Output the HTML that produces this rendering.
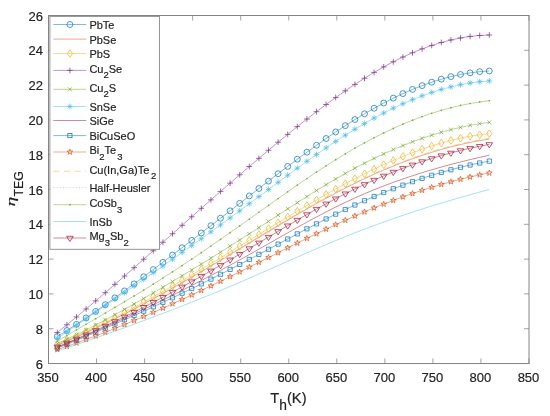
<!DOCTYPE html>
<html lang="en"><head><meta charset="utf-8"><title>TEG efficiency</title>
<style>text{stroke:#222;stroke-width:0.18px}html,body{margin:0;padding:0;background:#fff}body{width:550px;height:416px;overflow:hidden}svg{display:block}</style>
</head><body>
<svg width="550" height="416" viewBox="0 0 550 416" font-family="'Liberation Sans', Arial, sans-serif">
<rect width="550" height="416" fill="#fff"/>
<g id="curves" fill="none" stroke-linejoin="round">
<polyline points="57.30,336.53 66.90,330.53 76.50,324.33 86.10,317.95 95.70,311.39 105.30,304.69 114.90,297.85 124.50,290.90 134.10,283.85 143.70,276.73 153.30,269.54 162.90,262.31 172.50,255.03 182.10,247.73 191.70,240.39 201.30,233.02 210.90,225.64 220.50,218.23 230.10,210.81 239.70,203.38 249.30,195.94 258.90,188.50 268.50,181.09 278.10,173.72 287.70,166.43 297.30,159.24 306.90,152.17 316.50,145.25 326.10,138.51 335.70,131.96 345.30,125.64 354.90,119.57 364.50,113.77 374.10,108.25 383.70,103.04 393.30,98.15 402.90,93.60 412.50,89.42 422.10,85.60 431.70,82.19 441.30,79.18 450.90,76.61 460.50,74.49 470.10,72.84 479.70,71.67 489.30,71.01" stroke="#0072BD" stroke-width="0.5"/>
<circle cx="57.30" cy="336.53" r="2.95" stroke="#0072BD" stroke-width="0.72" fill="none"/>
<circle cx="66.90" cy="330.53" r="2.95" stroke="#0072BD" stroke-width="0.72" fill="none"/>
<circle cx="76.50" cy="324.33" r="2.95" stroke="#0072BD" stroke-width="0.72" fill="none"/>
<circle cx="86.10" cy="317.95" r="2.95" stroke="#0072BD" stroke-width="0.72" fill="none"/>
<circle cx="95.70" cy="311.39" r="2.95" stroke="#0072BD" stroke-width="0.72" fill="none"/>
<circle cx="105.30" cy="304.69" r="2.95" stroke="#0072BD" stroke-width="0.72" fill="none"/>
<circle cx="114.90" cy="297.85" r="2.95" stroke="#0072BD" stroke-width="0.72" fill="none"/>
<circle cx="124.50" cy="290.90" r="2.95" stroke="#0072BD" stroke-width="0.72" fill="none"/>
<circle cx="134.10" cy="283.85" r="2.95" stroke="#0072BD" stroke-width="0.72" fill="none"/>
<circle cx="143.70" cy="276.73" r="2.95" stroke="#0072BD" stroke-width="0.72" fill="none"/>
<circle cx="153.30" cy="269.54" r="2.95" stroke="#0072BD" stroke-width="0.72" fill="none"/>
<circle cx="162.90" cy="262.31" r="2.95" stroke="#0072BD" stroke-width="0.72" fill="none"/>
<circle cx="172.50" cy="255.03" r="2.95" stroke="#0072BD" stroke-width="0.72" fill="none"/>
<circle cx="182.10" cy="247.73" r="2.95" stroke="#0072BD" stroke-width="0.72" fill="none"/>
<circle cx="191.70" cy="240.39" r="2.95" stroke="#0072BD" stroke-width="0.72" fill="none"/>
<circle cx="201.30" cy="233.02" r="2.95" stroke="#0072BD" stroke-width="0.72" fill="none"/>
<circle cx="210.90" cy="225.64" r="2.95" stroke="#0072BD" stroke-width="0.72" fill="none"/>
<circle cx="220.50" cy="218.23" r="2.95" stroke="#0072BD" stroke-width="0.72" fill="none"/>
<circle cx="230.10" cy="210.81" r="2.95" stroke="#0072BD" stroke-width="0.72" fill="none"/>
<circle cx="239.70" cy="203.38" r="2.95" stroke="#0072BD" stroke-width="0.72" fill="none"/>
<circle cx="249.30" cy="195.94" r="2.95" stroke="#0072BD" stroke-width="0.72" fill="none"/>
<circle cx="258.90" cy="188.50" r="2.95" stroke="#0072BD" stroke-width="0.72" fill="none"/>
<circle cx="268.50" cy="181.09" r="2.95" stroke="#0072BD" stroke-width="0.72" fill="none"/>
<circle cx="278.10" cy="173.72" r="2.95" stroke="#0072BD" stroke-width="0.72" fill="none"/>
<circle cx="287.70" cy="166.43" r="2.95" stroke="#0072BD" stroke-width="0.72" fill="none"/>
<circle cx="297.30" cy="159.24" r="2.95" stroke="#0072BD" stroke-width="0.72" fill="none"/>
<circle cx="306.90" cy="152.17" r="2.95" stroke="#0072BD" stroke-width="0.72" fill="none"/>
<circle cx="316.50" cy="145.25" r="2.95" stroke="#0072BD" stroke-width="0.72" fill="none"/>
<circle cx="326.10" cy="138.51" r="2.95" stroke="#0072BD" stroke-width="0.72" fill="none"/>
<circle cx="335.70" cy="131.96" r="2.95" stroke="#0072BD" stroke-width="0.72" fill="none"/>
<circle cx="345.30" cy="125.64" r="2.95" stroke="#0072BD" stroke-width="0.72" fill="none"/>
<circle cx="354.90" cy="119.57" r="2.95" stroke="#0072BD" stroke-width="0.72" fill="none"/>
<circle cx="364.50" cy="113.77" r="2.95" stroke="#0072BD" stroke-width="0.72" fill="none"/>
<circle cx="374.10" cy="108.25" r="2.95" stroke="#0072BD" stroke-width="0.72" fill="none"/>
<circle cx="383.70" cy="103.04" r="2.95" stroke="#0072BD" stroke-width="0.72" fill="none"/>
<circle cx="393.30" cy="98.15" r="2.95" stroke="#0072BD" stroke-width="0.72" fill="none"/>
<circle cx="402.90" cy="93.60" r="2.95" stroke="#0072BD" stroke-width="0.72" fill="none"/>
<circle cx="412.50" cy="89.42" r="2.95" stroke="#0072BD" stroke-width="0.72" fill="none"/>
<circle cx="422.10" cy="85.60" r="2.95" stroke="#0072BD" stroke-width="0.72" fill="none"/>
<circle cx="431.70" cy="82.19" r="2.95" stroke="#0072BD" stroke-width="0.72" fill="none"/>
<circle cx="441.30" cy="79.18" r="2.95" stroke="#0072BD" stroke-width="0.72" fill="none"/>
<circle cx="450.90" cy="76.61" r="2.95" stroke="#0072BD" stroke-width="0.72" fill="none"/>
<circle cx="460.50" cy="74.49" r="2.95" stroke="#0072BD" stroke-width="0.72" fill="none"/>
<circle cx="470.10" cy="72.84" r="2.95" stroke="#0072BD" stroke-width="0.72" fill="none"/>
<circle cx="479.70" cy="71.67" r="2.95" stroke="#0072BD" stroke-width="0.72" fill="none"/>
<circle cx="489.30" cy="71.01" r="2.95" stroke="#0072BD" stroke-width="0.72" fill="none"/>
<polyline points="57.30,345.23 66.90,341.22 76.50,337.06 86.10,332.73 95.70,328.26 105.30,323.65 114.90,318.90 124.50,314.04 134.10,309.05 143.70,303.96 153.30,298.77 162.90,293.49 172.50,288.12 182.10,282.68 191.70,277.16 201.30,271.59 210.90,265.97 220.50,260.29 230.10,254.59 239.70,248.85 249.30,243.09 258.90,237.32 268.50,231.56 278.10,225.82 287.70,220.14 297.30,214.51 306.90,208.98 316.50,203.55 326.10,198.25 335.70,193.10 345.30,188.11 354.90,183.31 364.50,178.70 374.10,174.28 383.70,170.08 393.30,166.08 402.90,162.31 412.50,158.75 422.10,155.42 431.70,152.33 441.30,149.48 450.90,146.88 460.50,144.52 470.10,142.43 479.70,140.60 489.30,139.04" stroke="#D95319" stroke-width="0.5"/>
<polyline points="57.30,344.36 66.90,340.22 76.50,335.93 86.10,331.49 95.70,326.91 105.30,322.19 114.90,317.35 124.50,312.39 134.10,307.31 143.70,302.13 153.30,296.86 162.90,291.49 172.50,286.04 182.10,280.51 191.70,274.92 201.30,269.26 210.90,263.55 220.50,257.79 230.10,251.99 239.70,246.16 249.30,240.31 258.90,234.44 268.50,228.56 278.10,222.71 287.70,216.89 297.30,211.13 306.90,205.44 316.50,199.84 326.10,194.35 335.70,188.98 345.30,183.76 354.90,178.70 364.50,173.82 374.10,169.13 383.70,164.65 393.30,160.40 402.90,156.38 412.50,152.62 422.10,149.14 431.70,145.94 441.30,143.04 450.90,140.46 460.50,138.22 470.10,136.32 479.70,134.80 489.30,133.65" stroke="#EDB120" stroke-width="0.5"/>
<path d="M57.30 340.56L59.90 344.36L57.30 348.16L54.70 344.36Z" stroke="#EDB120" stroke-width="0.72" fill="none"/>
<path d="M66.90 336.42L69.50 340.22L66.90 344.02L64.30 340.22Z" stroke="#EDB120" stroke-width="0.72" fill="none"/>
<path d="M76.50 332.13L79.10 335.93L76.50 339.73L73.90 335.93Z" stroke="#EDB120" stroke-width="0.72" fill="none"/>
<path d="M86.10 327.69L88.70 331.49L86.10 335.29L83.50 331.49Z" stroke="#EDB120" stroke-width="0.72" fill="none"/>
<path d="M95.70 323.11L98.30 326.91L95.70 330.71L93.10 326.91Z" stroke="#EDB120" stroke-width="0.72" fill="none"/>
<path d="M105.30 318.39L107.90 322.19L105.30 325.99L102.70 322.19Z" stroke="#EDB120" stroke-width="0.72" fill="none"/>
<path d="M114.90 313.55L117.50 317.35L114.90 321.15L112.30 317.35Z" stroke="#EDB120" stroke-width="0.72" fill="none"/>
<path d="M124.50 308.59L127.10 312.39L124.50 316.19L121.90 312.39Z" stroke="#EDB120" stroke-width="0.72" fill="none"/>
<path d="M134.10 303.51L136.70 307.31L134.10 311.11L131.50 307.31Z" stroke="#EDB120" stroke-width="0.72" fill="none"/>
<path d="M143.70 298.33L146.30 302.13L143.70 305.93L141.10 302.13Z" stroke="#EDB120" stroke-width="0.72" fill="none"/>
<path d="M153.30 293.06L155.90 296.86L153.30 300.66L150.70 296.86Z" stroke="#EDB120" stroke-width="0.72" fill="none"/>
<path d="M162.90 287.69L165.50 291.49L162.90 295.29L160.30 291.49Z" stroke="#EDB120" stroke-width="0.72" fill="none"/>
<path d="M172.50 282.24L175.10 286.04L172.50 289.84L169.90 286.04Z" stroke="#EDB120" stroke-width="0.72" fill="none"/>
<path d="M182.10 276.71L184.70 280.51L182.10 284.31L179.50 280.51Z" stroke="#EDB120" stroke-width="0.72" fill="none"/>
<path d="M191.70 271.12L194.30 274.92L191.70 278.72L189.10 274.92Z" stroke="#EDB120" stroke-width="0.72" fill="none"/>
<path d="M201.30 265.46L203.90 269.26L201.30 273.06L198.70 269.26Z" stroke="#EDB120" stroke-width="0.72" fill="none"/>
<path d="M210.90 259.75L213.50 263.55L210.90 267.35L208.30 263.55Z" stroke="#EDB120" stroke-width="0.72" fill="none"/>
<path d="M220.50 253.99L223.10 257.79L220.50 261.59L217.90 257.79Z" stroke="#EDB120" stroke-width="0.72" fill="none"/>
<path d="M230.10 248.19L232.70 251.99L230.10 255.79L227.50 251.99Z" stroke="#EDB120" stroke-width="0.72" fill="none"/>
<path d="M239.70 242.36L242.30 246.16L239.70 249.96L237.10 246.16Z" stroke="#EDB120" stroke-width="0.72" fill="none"/>
<path d="M249.30 236.51L251.90 240.31L249.30 244.11L246.70 240.31Z" stroke="#EDB120" stroke-width="0.72" fill="none"/>
<path d="M258.90 230.64L261.50 234.44L258.90 238.24L256.30 234.44Z" stroke="#EDB120" stroke-width="0.72" fill="none"/>
<path d="M268.50 224.76L271.10 228.56L268.50 232.36L265.90 228.56Z" stroke="#EDB120" stroke-width="0.72" fill="none"/>
<path d="M278.10 218.91L280.70 222.71L278.10 226.51L275.50 222.71Z" stroke="#EDB120" stroke-width="0.72" fill="none"/>
<path d="M287.70 213.09L290.30 216.89L287.70 220.69L285.10 216.89Z" stroke="#EDB120" stroke-width="0.72" fill="none"/>
<path d="M297.30 207.33L299.90 211.13L297.30 214.93L294.70 211.13Z" stroke="#EDB120" stroke-width="0.72" fill="none"/>
<path d="M306.90 201.64L309.50 205.44L306.90 209.24L304.30 205.44Z" stroke="#EDB120" stroke-width="0.72" fill="none"/>
<path d="M316.50 196.04L319.10 199.84L316.50 203.64L313.90 199.84Z" stroke="#EDB120" stroke-width="0.72" fill="none"/>
<path d="M326.10 190.55L328.70 194.35L326.10 198.15L323.50 194.35Z" stroke="#EDB120" stroke-width="0.72" fill="none"/>
<path d="M335.70 185.18L338.30 188.98L335.70 192.78L333.10 188.98Z" stroke="#EDB120" stroke-width="0.72" fill="none"/>
<path d="M345.30 179.96L347.90 183.76L345.30 187.56L342.70 183.76Z" stroke="#EDB120" stroke-width="0.72" fill="none"/>
<path d="M354.90 174.90L357.50 178.70L354.90 182.50L352.30 178.70Z" stroke="#EDB120" stroke-width="0.72" fill="none"/>
<path d="M364.50 170.02L367.10 173.82L364.50 177.62L361.90 173.82Z" stroke="#EDB120" stroke-width="0.72" fill="none"/>
<path d="M374.10 165.33L376.70 169.13L374.10 172.93L371.50 169.13Z" stroke="#EDB120" stroke-width="0.72" fill="none"/>
<path d="M383.70 160.85L386.30 164.65L383.70 168.45L381.10 164.65Z" stroke="#EDB120" stroke-width="0.72" fill="none"/>
<path d="M393.30 156.60L395.90 160.40L393.30 164.20L390.70 160.40Z" stroke="#EDB120" stroke-width="0.72" fill="none"/>
<path d="M402.90 152.58L405.50 156.38L402.90 160.18L400.30 156.38Z" stroke="#EDB120" stroke-width="0.72" fill="none"/>
<path d="M412.50 148.82L415.10 152.62L412.50 156.42L409.90 152.62Z" stroke="#EDB120" stroke-width="0.72" fill="none"/>
<path d="M422.10 145.34L424.70 149.14L422.10 152.94L419.50 149.14Z" stroke="#EDB120" stroke-width="0.72" fill="none"/>
<path d="M431.70 142.14L434.30 145.94L431.70 149.74L429.10 145.94Z" stroke="#EDB120" stroke-width="0.72" fill="none"/>
<path d="M441.30 139.24L443.90 143.04L441.30 146.84L438.70 143.04Z" stroke="#EDB120" stroke-width="0.72" fill="none"/>
<path d="M450.90 136.66L453.50 140.46L450.90 144.26L448.30 140.46Z" stroke="#EDB120" stroke-width="0.72" fill="none"/>
<path d="M460.50 134.42L463.10 138.22L460.50 142.02L457.90 138.22Z" stroke="#EDB120" stroke-width="0.72" fill="none"/>
<path d="M470.10 132.52L472.70 136.32L470.10 140.12L467.50 136.32Z" stroke="#EDB120" stroke-width="0.72" fill="none"/>
<path d="M479.70 131.00L482.30 134.80L479.70 138.60L477.10 134.80Z" stroke="#EDB120" stroke-width="0.72" fill="none"/>
<path d="M489.30 129.85L491.90 133.65L489.30 137.45L486.70 133.65Z" stroke="#EDB120" stroke-width="0.72" fill="none"/>
<polyline points="57.30,332.53 66.90,324.81 76.50,316.95 86.10,308.97 95.70,300.87 105.30,292.68 114.90,284.41 124.50,276.06 134.10,267.66 143.70,259.22 153.30,250.75 162.90,242.26 172.50,233.77 182.10,225.27 191.70,216.79 201.30,208.32 210.90,199.88 220.50,191.47 230.10,183.11 239.70,174.79 249.30,166.53 258.90,158.34 268.50,150.24 278.10,142.24 287.70,134.36 297.30,126.63 306.90,119.07 316.50,111.69 326.10,104.51 335.70,97.55 345.30,90.84 354.90,84.39 364.50,78.24 374.10,72.40 383.70,66.90 393.30,61.78 402.90,57.06 412.50,52.75 422.10,48.88 431.70,45.44 441.30,42.47 450.90,39.97 460.50,37.96 470.10,36.44 479.70,35.45 489.30,34.99" stroke="#7E2F8E" stroke-width="0.5"/>
<path d="M54.40 332.53H60.20M57.30 329.63V335.43" stroke="#7E2F8E" stroke-width="0.72" fill="none"/>
<path d="M64.00 324.81H69.80M66.90 321.91V327.71" stroke="#7E2F8E" stroke-width="0.72" fill="none"/>
<path d="M73.60 316.95H79.40M76.50 314.05V319.85" stroke="#7E2F8E" stroke-width="0.72" fill="none"/>
<path d="M83.20 308.97H89.00M86.10 306.07V311.87" stroke="#7E2F8E" stroke-width="0.72" fill="none"/>
<path d="M92.80 300.87H98.60M95.70 297.97V303.77" stroke="#7E2F8E" stroke-width="0.72" fill="none"/>
<path d="M102.40 292.68H108.20M105.30 289.78V295.58" stroke="#7E2F8E" stroke-width="0.72" fill="none"/>
<path d="M112.00 284.41H117.80M114.90 281.51V287.31" stroke="#7E2F8E" stroke-width="0.72" fill="none"/>
<path d="M121.60 276.06H127.40M124.50 273.16V278.96" stroke="#7E2F8E" stroke-width="0.72" fill="none"/>
<path d="M131.20 267.66H137.00M134.10 264.76V270.56" stroke="#7E2F8E" stroke-width="0.72" fill="none"/>
<path d="M140.80 259.22H146.60M143.70 256.32V262.12" stroke="#7E2F8E" stroke-width="0.72" fill="none"/>
<path d="M150.40 250.75H156.20M153.30 247.85V253.65" stroke="#7E2F8E" stroke-width="0.72" fill="none"/>
<path d="M160.00 242.26H165.80M162.90 239.36V245.16" stroke="#7E2F8E" stroke-width="0.72" fill="none"/>
<path d="M169.60 233.77H175.40M172.50 230.87V236.67" stroke="#7E2F8E" stroke-width="0.72" fill="none"/>
<path d="M179.20 225.27H185.00M182.10 222.37V228.17" stroke="#7E2F8E" stroke-width="0.72" fill="none"/>
<path d="M188.80 216.79H194.60M191.70 213.89V219.69" stroke="#7E2F8E" stroke-width="0.72" fill="none"/>
<path d="M198.40 208.32H204.20M201.30 205.42V211.22" stroke="#7E2F8E" stroke-width="0.72" fill="none"/>
<path d="M208.00 199.88H213.80M210.90 196.98V202.78" stroke="#7E2F8E" stroke-width="0.72" fill="none"/>
<path d="M217.60 191.47H223.40M220.50 188.57V194.37" stroke="#7E2F8E" stroke-width="0.72" fill="none"/>
<path d="M227.20 183.11H233.00M230.10 180.21V186.01" stroke="#7E2F8E" stroke-width="0.72" fill="none"/>
<path d="M236.80 174.79H242.60M239.70 171.89V177.69" stroke="#7E2F8E" stroke-width="0.72" fill="none"/>
<path d="M246.40 166.53H252.20M249.30 163.63V169.43" stroke="#7E2F8E" stroke-width="0.72" fill="none"/>
<path d="M256.00 158.34H261.80M258.90 155.44V161.24" stroke="#7E2F8E" stroke-width="0.72" fill="none"/>
<path d="M265.60 150.24H271.40M268.50 147.34V153.14" stroke="#7E2F8E" stroke-width="0.72" fill="none"/>
<path d="M275.20 142.24H281.00M278.10 139.34V145.14" stroke="#7E2F8E" stroke-width="0.72" fill="none"/>
<path d="M284.80 134.36H290.60M287.70 131.46V137.26" stroke="#7E2F8E" stroke-width="0.72" fill="none"/>
<path d="M294.40 126.63H300.20M297.30 123.73V129.53" stroke="#7E2F8E" stroke-width="0.72" fill="none"/>
<path d="M304.00 119.07H309.80M306.90 116.17V121.97" stroke="#7E2F8E" stroke-width="0.72" fill="none"/>
<path d="M313.60 111.69H319.40M316.50 108.79V114.59" stroke="#7E2F8E" stroke-width="0.72" fill="none"/>
<path d="M323.20 104.51H329.00M326.10 101.61V107.41" stroke="#7E2F8E" stroke-width="0.72" fill="none"/>
<path d="M332.80 97.55H338.60M335.70 94.65V100.45" stroke="#7E2F8E" stroke-width="0.72" fill="none"/>
<path d="M342.40 90.84H348.20M345.30 87.94V93.74" stroke="#7E2F8E" stroke-width="0.72" fill="none"/>
<path d="M352.00 84.39H357.80M354.90 81.49V87.29" stroke="#7E2F8E" stroke-width="0.72" fill="none"/>
<path d="M361.60 78.24H367.40M364.50 75.34V81.14" stroke="#7E2F8E" stroke-width="0.72" fill="none"/>
<path d="M371.20 72.40H377.00M374.10 69.50V75.30" stroke="#7E2F8E" stroke-width="0.72" fill="none"/>
<path d="M380.80 66.90H386.60M383.70 64.00V69.80" stroke="#7E2F8E" stroke-width="0.72" fill="none"/>
<path d="M390.40 61.78H396.20M393.30 58.88V64.68" stroke="#7E2F8E" stroke-width="0.72" fill="none"/>
<path d="M400.00 57.06H405.80M402.90 54.16V59.96" stroke="#7E2F8E" stroke-width="0.72" fill="none"/>
<path d="M409.60 52.75H415.40M412.50 49.85V55.65" stroke="#7E2F8E" stroke-width="0.72" fill="none"/>
<path d="M419.20 48.88H425.00M422.10 45.98V51.78" stroke="#7E2F8E" stroke-width="0.72" fill="none"/>
<path d="M428.80 45.44H434.60M431.70 42.54V48.34" stroke="#7E2F8E" stroke-width="0.72" fill="none"/>
<path d="M438.40 42.47H444.20M441.30 39.57V45.37" stroke="#7E2F8E" stroke-width="0.72" fill="none"/>
<path d="M448.00 39.97H453.80M450.90 37.07V42.87" stroke="#7E2F8E" stroke-width="0.72" fill="none"/>
<path d="M457.60 37.96H463.40M460.50 35.06V40.86" stroke="#7E2F8E" stroke-width="0.72" fill="none"/>
<path d="M467.20 36.44H473.00M470.10 33.54V39.34" stroke="#7E2F8E" stroke-width="0.72" fill="none"/>
<path d="M476.80 35.45H482.60M479.70 32.55V38.35" stroke="#7E2F8E" stroke-width="0.72" fill="none"/>
<path d="M486.40 34.99H492.20M489.30 32.09V37.89" stroke="#7E2F8E" stroke-width="0.72" fill="none"/>
<polyline points="57.30,343.49 66.90,339.20 76.50,334.69 86.10,329.97 95.70,325.07 105.30,320.00 114.90,314.78 124.50,309.44 134.10,303.99 143.70,298.46 153.30,292.86 162.90,287.20 172.50,281.50 182.10,275.74 191.70,269.94 201.30,264.07 210.90,258.16 220.50,252.18 230.10,246.14 239.70,240.04 249.30,233.87 258.90,227.64 268.50,221.38 278.10,215.11 287.70,208.86 297.30,202.66 306.90,196.55 316.50,190.54 326.10,184.68 335.70,178.99 345.30,173.49 354.90,168.22 364.50,163.19 374.10,158.41 383.70,153.87 393.30,149.58 402.90,145.57 412.50,141.82 422.10,138.34 431.70,135.15 441.30,132.25 450.90,129.65 460.50,127.35 470.10,125.36 479.70,123.69 489.30,122.34" stroke="#77AC30" stroke-width="0.5"/>
<path d="M55.35 341.54L59.25 345.44M55.35 345.44L59.25 341.54" stroke="#77AC30" stroke-width="0.72" fill="none"/>
<path d="M64.95 337.25L68.85 341.15M64.95 341.15L68.85 337.25" stroke="#77AC30" stroke-width="0.72" fill="none"/>
<path d="M74.55 332.74L78.45 336.64M74.55 336.64L78.45 332.74" stroke="#77AC30" stroke-width="0.72" fill="none"/>
<path d="M84.15 328.02L88.05 331.92M84.15 331.92L88.05 328.02" stroke="#77AC30" stroke-width="0.72" fill="none"/>
<path d="M93.75 323.12L97.65 327.02M93.75 327.02L97.65 323.12" stroke="#77AC30" stroke-width="0.72" fill="none"/>
<path d="M103.35 318.05L107.25 321.95M103.35 321.95L107.25 318.05" stroke="#77AC30" stroke-width="0.72" fill="none"/>
<path d="M112.95 312.83L116.85 316.73M112.95 316.73L116.85 312.83" stroke="#77AC30" stroke-width="0.72" fill="none"/>
<path d="M122.55 307.49L126.45 311.39M122.55 311.39L126.45 307.49" stroke="#77AC30" stroke-width="0.72" fill="none"/>
<path d="M132.15 302.04L136.05 305.94M132.15 305.94L136.05 302.04" stroke="#77AC30" stroke-width="0.72" fill="none"/>
<path d="M141.75 296.51L145.65 300.41M141.75 300.41L145.65 296.51" stroke="#77AC30" stroke-width="0.72" fill="none"/>
<path d="M151.35 290.91L155.25 294.81M151.35 294.81L155.25 290.91" stroke="#77AC30" stroke-width="0.72" fill="none"/>
<path d="M160.95 285.25L164.85 289.15M160.95 289.15L164.85 285.25" stroke="#77AC30" stroke-width="0.72" fill="none"/>
<path d="M170.55 279.55L174.45 283.45M170.55 283.45L174.45 279.55" stroke="#77AC30" stroke-width="0.72" fill="none"/>
<path d="M180.15 273.79L184.05 277.69M180.15 277.69L184.05 273.79" stroke="#77AC30" stroke-width="0.72" fill="none"/>
<path d="M189.75 267.99L193.65 271.89M189.75 271.89L193.65 267.99" stroke="#77AC30" stroke-width="0.72" fill="none"/>
<path d="M199.35 262.12L203.25 266.02M199.35 266.02L203.25 262.12" stroke="#77AC30" stroke-width="0.72" fill="none"/>
<path d="M208.95 256.21L212.85 260.11M208.95 260.11L212.85 256.21" stroke="#77AC30" stroke-width="0.72" fill="none"/>
<path d="M218.55 250.23L222.45 254.13M218.55 254.13L222.45 250.23" stroke="#77AC30" stroke-width="0.72" fill="none"/>
<path d="M228.15 244.19L232.05 248.09M228.15 248.09L232.05 244.19" stroke="#77AC30" stroke-width="0.72" fill="none"/>
<path d="M237.75 238.09L241.65 241.99M237.75 241.99L241.65 238.09" stroke="#77AC30" stroke-width="0.72" fill="none"/>
<path d="M247.35 231.92L251.25 235.82M247.35 235.82L251.25 231.92" stroke="#77AC30" stroke-width="0.72" fill="none"/>
<path d="M256.95 225.69L260.85 229.59M256.95 229.59L260.85 225.69" stroke="#77AC30" stroke-width="0.72" fill="none"/>
<path d="M266.55 219.43L270.45 223.33M266.55 223.33L270.45 219.43" stroke="#77AC30" stroke-width="0.72" fill="none"/>
<path d="M276.15 213.16L280.05 217.06M276.15 217.06L280.05 213.16" stroke="#77AC30" stroke-width="0.72" fill="none"/>
<path d="M285.75 206.91L289.65 210.81M285.75 210.81L289.65 206.91" stroke="#77AC30" stroke-width="0.72" fill="none"/>
<path d="M295.35 200.71L299.25 204.61M295.35 204.61L299.25 200.71" stroke="#77AC30" stroke-width="0.72" fill="none"/>
<path d="M304.95 194.60L308.85 198.50M304.95 198.50L308.85 194.60" stroke="#77AC30" stroke-width="0.72" fill="none"/>
<path d="M314.55 188.59L318.45 192.49M314.55 192.49L318.45 188.59" stroke="#77AC30" stroke-width="0.72" fill="none"/>
<path d="M324.15 182.73L328.05 186.63M324.15 186.63L328.05 182.73" stroke="#77AC30" stroke-width="0.72" fill="none"/>
<path d="M333.75 177.04L337.65 180.94M333.75 180.94L337.65 177.04" stroke="#77AC30" stroke-width="0.72" fill="none"/>
<path d="M343.35 171.54L347.25 175.44M343.35 175.44L347.25 171.54" stroke="#77AC30" stroke-width="0.72" fill="none"/>
<path d="M352.95 166.27L356.85 170.17M352.95 170.17L356.85 166.27" stroke="#77AC30" stroke-width="0.72" fill="none"/>
<path d="M362.55 161.24L366.45 165.14M362.55 165.14L366.45 161.24" stroke="#77AC30" stroke-width="0.72" fill="none"/>
<path d="M372.15 156.46L376.05 160.36M372.15 160.36L376.05 156.46" stroke="#77AC30" stroke-width="0.72" fill="none"/>
<path d="M381.75 151.92L385.65 155.82M381.75 155.82L385.65 151.92" stroke="#77AC30" stroke-width="0.72" fill="none"/>
<path d="M391.35 147.63L395.25 151.53M391.35 151.53L395.25 147.63" stroke="#77AC30" stroke-width="0.72" fill="none"/>
<path d="M400.95 143.62L404.85 147.52M400.95 147.52L404.85 143.62" stroke="#77AC30" stroke-width="0.72" fill="none"/>
<path d="M410.55 139.87L414.45 143.77M410.55 143.77L414.45 139.87" stroke="#77AC30" stroke-width="0.72" fill="none"/>
<path d="M420.15 136.39L424.05 140.29M420.15 140.29L424.05 136.39" stroke="#77AC30" stroke-width="0.72" fill="none"/>
<path d="M429.75 133.20L433.65 137.10M429.75 137.10L433.65 133.20" stroke="#77AC30" stroke-width="0.72" fill="none"/>
<path d="M439.35 130.30L443.25 134.20M439.35 134.20L443.25 130.30" stroke="#77AC30" stroke-width="0.72" fill="none"/>
<path d="M448.95 127.70L452.85 131.60M448.95 131.60L452.85 127.70" stroke="#77AC30" stroke-width="0.72" fill="none"/>
<path d="M458.55 125.40L462.45 129.30M458.55 129.30L462.45 125.40" stroke="#77AC30" stroke-width="0.72" fill="none"/>
<path d="M468.15 123.41L472.05 127.31M468.15 127.31L472.05 123.41" stroke="#77AC30" stroke-width="0.72" fill="none"/>
<path d="M477.75 121.74L481.65 125.64M477.75 125.64L481.65 121.74" stroke="#77AC30" stroke-width="0.72" fill="none"/>
<path d="M487.35 120.39L491.25 124.29M487.35 124.29L491.25 120.39" stroke="#77AC30" stroke-width="0.72" fill="none"/>
<polyline points="57.30,338.27 66.90,331.81 76.50,325.34 86.10,318.84 95.70,312.32 105.30,305.78 114.90,299.22 124.50,292.62 134.10,286.00 143.70,279.35 153.30,272.67 162.90,265.96 172.50,259.21 182.10,252.42 191.70,245.60 201.30,238.74 210.90,231.83 220.50,224.88 230.10,217.89 239.70,210.85 249.30,203.77 258.90,196.64 268.50,189.49 278.10,182.35 287.70,175.25 297.30,168.22 306.90,161.30 316.50,154.50 326.10,147.87 335.70,141.43 345.30,135.21 354.90,129.24 364.50,123.54 374.10,118.12 383.70,113.00 393.30,108.20 402.90,103.73 412.50,99.60 422.10,95.83 431.70,92.44 441.30,89.45 450.90,86.86 460.50,84.70 470.10,82.98 479.70,81.72 489.30,80.92" stroke="#4DBEEE" stroke-width="0.5"/>
<path d="M54.40 338.27H60.20M57.30 335.37V341.17M55.25 336.22L59.35 340.32M55.25 340.32L59.35 336.22" stroke="#4DBEEE" stroke-width="0.72" fill="none"/>
<path d="M64.00 331.81H69.80M66.90 328.91V334.71M64.85 329.76L68.95 333.86M64.85 333.86L68.95 329.76" stroke="#4DBEEE" stroke-width="0.72" fill="none"/>
<path d="M73.60 325.34H79.40M76.50 322.44V328.24M74.45 323.29L78.55 327.39M74.45 327.39L78.55 323.29" stroke="#4DBEEE" stroke-width="0.72" fill="none"/>
<path d="M83.20 318.84H89.00M86.10 315.94V321.74M84.05 316.79L88.15 320.89M84.05 320.89L88.15 316.79" stroke="#4DBEEE" stroke-width="0.72" fill="none"/>
<path d="M92.80 312.32H98.60M95.70 309.42V315.22M93.65 310.27L97.75 314.37M93.65 314.37L97.75 310.27" stroke="#4DBEEE" stroke-width="0.72" fill="none"/>
<path d="M102.40 305.78H108.20M105.30 302.88V308.68M103.25 303.73L107.35 307.83M103.25 307.83L107.35 303.73" stroke="#4DBEEE" stroke-width="0.72" fill="none"/>
<path d="M112.00 299.22H117.80M114.90 296.32V302.12M112.85 297.17L116.95 301.27M112.85 301.27L116.95 297.17" stroke="#4DBEEE" stroke-width="0.72" fill="none"/>
<path d="M121.60 292.62H127.40M124.50 289.72V295.52M122.45 290.57L126.55 294.67M122.45 294.67L126.55 290.57" stroke="#4DBEEE" stroke-width="0.72" fill="none"/>
<path d="M131.20 286.00H137.00M134.10 283.10V288.90M132.05 283.95L136.15 288.05M132.05 288.05L136.15 283.95" stroke="#4DBEEE" stroke-width="0.72" fill="none"/>
<path d="M140.80 279.35H146.60M143.70 276.45V282.25M141.65 277.30L145.75 281.40M141.65 281.40L145.75 277.30" stroke="#4DBEEE" stroke-width="0.72" fill="none"/>
<path d="M150.40 272.67H156.20M153.30 269.77V275.57M151.25 270.62L155.35 274.72M151.25 274.72L155.35 270.62" stroke="#4DBEEE" stroke-width="0.72" fill="none"/>
<path d="M160.00 265.96H165.80M162.90 263.06V268.86M160.85 263.91L164.95 268.01M160.85 268.01L164.95 263.91" stroke="#4DBEEE" stroke-width="0.72" fill="none"/>
<path d="M169.60 259.21H175.40M172.50 256.31V262.11M170.45 257.16L174.55 261.26M170.45 261.26L174.55 257.16" stroke="#4DBEEE" stroke-width="0.72" fill="none"/>
<path d="M179.20 252.42H185.00M182.10 249.52V255.32M180.05 250.37L184.15 254.47M180.05 254.47L184.15 250.37" stroke="#4DBEEE" stroke-width="0.72" fill="none"/>
<path d="M188.80 245.60H194.60M191.70 242.70V248.50M189.65 243.55L193.75 247.65M189.65 247.65L193.75 243.55" stroke="#4DBEEE" stroke-width="0.72" fill="none"/>
<path d="M198.40 238.74H204.20M201.30 235.84V241.64M199.25 236.69L203.35 240.79M199.25 240.79L203.35 236.69" stroke="#4DBEEE" stroke-width="0.72" fill="none"/>
<path d="M208.00 231.83H213.80M210.90 228.93V234.73M208.85 229.78L212.95 233.88M208.85 233.88L212.95 229.78" stroke="#4DBEEE" stroke-width="0.72" fill="none"/>
<path d="M217.60 224.88H223.40M220.50 221.98V227.78M218.45 222.83L222.55 226.93M218.45 226.93L222.55 222.83" stroke="#4DBEEE" stroke-width="0.72" fill="none"/>
<path d="M227.20 217.89H233.00M230.10 214.99V220.79M228.05 215.84L232.15 219.94M228.05 219.94L232.15 215.84" stroke="#4DBEEE" stroke-width="0.72" fill="none"/>
<path d="M236.80 210.85H242.60M239.70 207.95V213.75M237.65 208.80L241.75 212.90M237.65 212.90L241.75 208.80" stroke="#4DBEEE" stroke-width="0.72" fill="none"/>
<path d="M246.40 203.77H252.20M249.30 200.87V206.67M247.25 201.72L251.35 205.82M247.25 205.82L251.35 201.72" stroke="#4DBEEE" stroke-width="0.72" fill="none"/>
<path d="M256.00 196.64H261.80M258.90 193.74V199.54M256.85 194.59L260.95 198.69M256.85 198.69L260.95 194.59" stroke="#4DBEEE" stroke-width="0.72" fill="none"/>
<path d="M265.60 189.49H271.40M268.50 186.59V192.39M266.45 187.44L270.55 191.54M266.45 191.54L270.55 187.44" stroke="#4DBEEE" stroke-width="0.72" fill="none"/>
<path d="M275.20 182.35H281.00M278.10 179.45V185.25M276.05 180.30L280.15 184.40M276.05 184.40L280.15 180.30" stroke="#4DBEEE" stroke-width="0.72" fill="none"/>
<path d="M284.80 175.25H290.60M287.70 172.35V178.15M285.65 173.20L289.75 177.30M285.65 177.30L289.75 173.20" stroke="#4DBEEE" stroke-width="0.72" fill="none"/>
<path d="M294.40 168.22H300.20M297.30 165.32V171.12M295.25 166.17L299.35 170.27M295.25 170.27L299.35 166.17" stroke="#4DBEEE" stroke-width="0.72" fill="none"/>
<path d="M304.00 161.30H309.80M306.90 158.40V164.20M304.85 159.25L308.95 163.35M304.85 163.35L308.95 159.25" stroke="#4DBEEE" stroke-width="0.72" fill="none"/>
<path d="M313.60 154.50H319.40M316.50 151.60V157.40M314.45 152.45L318.55 156.55M314.45 156.55L318.55 152.45" stroke="#4DBEEE" stroke-width="0.72" fill="none"/>
<path d="M323.20 147.87H329.00M326.10 144.97V150.77M324.05 145.82L328.15 149.92M324.05 149.92L328.15 145.82" stroke="#4DBEEE" stroke-width="0.72" fill="none"/>
<path d="M332.80 141.43H338.60M335.70 138.53V144.33M333.65 139.38L337.75 143.48M333.65 143.48L337.75 139.38" stroke="#4DBEEE" stroke-width="0.72" fill="none"/>
<path d="M342.40 135.21H348.20M345.30 132.31V138.11M343.25 133.16L347.35 137.26M343.25 137.26L347.35 133.16" stroke="#4DBEEE" stroke-width="0.72" fill="none"/>
<path d="M352.00 129.24H357.80M354.90 126.34V132.14M352.85 127.19L356.95 131.29M352.85 131.29L356.95 127.19" stroke="#4DBEEE" stroke-width="0.72" fill="none"/>
<path d="M361.60 123.54H367.40M364.50 120.64V126.44M362.45 121.49L366.55 125.59M362.45 125.59L366.55 121.49" stroke="#4DBEEE" stroke-width="0.72" fill="none"/>
<path d="M371.20 118.12H377.00M374.10 115.22V121.02M372.05 116.07L376.15 120.17M372.05 120.17L376.15 116.07" stroke="#4DBEEE" stroke-width="0.72" fill="none"/>
<path d="M380.80 113.00H386.60M383.70 110.10V115.90M381.65 110.95L385.75 115.05M381.65 115.05L385.75 110.95" stroke="#4DBEEE" stroke-width="0.72" fill="none"/>
<path d="M390.40 108.20H396.20M393.30 105.30V111.10M391.25 106.15L395.35 110.25M391.25 110.25L395.35 106.15" stroke="#4DBEEE" stroke-width="0.72" fill="none"/>
<path d="M400.00 103.73H405.80M402.90 100.83V106.63M400.85 101.68L404.95 105.78M400.85 105.78L404.95 101.68" stroke="#4DBEEE" stroke-width="0.72" fill="none"/>
<path d="M409.60 99.60H415.40M412.50 96.70V102.50M410.45 97.55L414.55 101.65M410.45 101.65L414.55 97.55" stroke="#4DBEEE" stroke-width="0.72" fill="none"/>
<path d="M419.20 95.83H425.00M422.10 92.93V98.73M420.05 93.78L424.15 97.88M420.05 97.88L424.15 93.78" stroke="#4DBEEE" stroke-width="0.72" fill="none"/>
<path d="M428.80 92.44H434.60M431.70 89.54V95.34M429.65 90.39L433.75 94.49M429.65 94.49L433.75 90.39" stroke="#4DBEEE" stroke-width="0.72" fill="none"/>
<path d="M438.40 89.45H444.20M441.30 86.55V92.35M439.25 87.40L443.35 91.50M439.25 91.50L443.35 87.40" stroke="#4DBEEE" stroke-width="0.72" fill="none"/>
<path d="M448.00 86.86H453.80M450.90 83.96V89.76M448.85 84.81L452.95 88.91M448.85 88.91L452.95 84.81" stroke="#4DBEEE" stroke-width="0.72" fill="none"/>
<path d="M457.60 84.70H463.40M460.50 81.80V87.60M458.45 82.65L462.55 86.75M458.45 86.75L462.55 82.65" stroke="#4DBEEE" stroke-width="0.72" fill="none"/>
<path d="M467.20 82.98H473.00M470.10 80.08V85.88M468.05 80.93L472.15 85.03M468.05 85.03L472.15 80.93" stroke="#4DBEEE" stroke-width="0.72" fill="none"/>
<path d="M476.80 81.72H482.60M479.70 78.82V84.62M477.65 79.67L481.75 83.77M477.65 83.77L481.75 79.67" stroke="#4DBEEE" stroke-width="0.72" fill="none"/>
<path d="M486.40 80.92H492.20M489.30 78.02V83.82M487.25 78.87L491.35 82.97M487.25 82.97L491.35 78.87" stroke="#4DBEEE" stroke-width="0.72" fill="none"/>
<polyline points="57.30,347.49 66.90,343.54 76.50,339.52 86.10,335.42 95.70,331.25 105.30,327.01 114.90,322.69 124.50,318.30 134.10,313.84 143.70,309.30 153.30,304.69 162.90,300.00 172.50,295.25 182.10,290.42 191.70,285.51 201.30,280.54 210.90,275.49 220.50,270.37 230.10,265.18 239.70,259.91 249.30,254.58 258.90,249.17 268.50,243.73 278.10,238.27 287.70,232.83 297.30,227.45 306.90,222.15 316.50,216.96 326.10,211.91 335.70,207.04 345.30,202.38 354.90,197.94 364.50,193.73 374.10,189.74 383.70,185.95 393.30,182.37 402.90,178.97 412.50,175.75 422.10,172.69 431.70,169.80 441.30,167.05 450.90,164.45 460.50,161.97 470.10,159.61 479.70,157.37 489.30,155.22" stroke="#A2142F" stroke-width="0.5"/>
<polyline points="57.30,348.19 66.90,344.30 76.50,340.35 86.10,336.36 95.70,332.30 105.30,328.19 114.90,324.02 124.50,319.80 134.10,315.52 143.70,311.18 153.30,306.78 162.90,302.32 172.50,297.80 182.10,293.22 191.70,288.58 201.30,283.88 210.90,279.12 220.50,274.30 230.10,269.41 239.70,264.46 249.30,259.45 258.90,254.37 268.50,249.26 278.10,244.12 287.70,238.99 297.30,233.88 306.90,228.82 316.50,223.84 326.10,218.94 335.70,214.16 345.30,209.51 354.90,205.02 364.50,200.70 374.10,196.54 383.70,192.55 393.30,188.74 402.90,185.11 412.50,181.66 422.10,178.39 431.70,175.32 441.30,172.45 450.90,169.77 460.50,167.30 470.10,165.03 479.70,162.98 489.30,161.14" stroke="#0072BD" stroke-width="0.5"/>
<rect x="55.20" y="346.09" width="4.2" height="4.2" stroke="#0072BD" stroke-width="0.72" fill="none"/>
<rect x="64.80" y="342.20" width="4.2" height="4.2" stroke="#0072BD" stroke-width="0.72" fill="none"/>
<rect x="74.40" y="338.25" width="4.2" height="4.2" stroke="#0072BD" stroke-width="0.72" fill="none"/>
<rect x="84.00" y="334.26" width="4.2" height="4.2" stroke="#0072BD" stroke-width="0.72" fill="none"/>
<rect x="93.60" y="330.20" width="4.2" height="4.2" stroke="#0072BD" stroke-width="0.72" fill="none"/>
<rect x="103.20" y="326.09" width="4.2" height="4.2" stroke="#0072BD" stroke-width="0.72" fill="none"/>
<rect x="112.80" y="321.92" width="4.2" height="4.2" stroke="#0072BD" stroke-width="0.72" fill="none"/>
<rect x="122.40" y="317.70" width="4.2" height="4.2" stroke="#0072BD" stroke-width="0.72" fill="none"/>
<rect x="132.00" y="313.42" width="4.2" height="4.2" stroke="#0072BD" stroke-width="0.72" fill="none"/>
<rect x="141.60" y="309.08" width="4.2" height="4.2" stroke="#0072BD" stroke-width="0.72" fill="none"/>
<rect x="151.20" y="304.68" width="4.2" height="4.2" stroke="#0072BD" stroke-width="0.72" fill="none"/>
<rect x="160.80" y="300.22" width="4.2" height="4.2" stroke="#0072BD" stroke-width="0.72" fill="none"/>
<rect x="170.40" y="295.70" width="4.2" height="4.2" stroke="#0072BD" stroke-width="0.72" fill="none"/>
<rect x="180.00" y="291.12" width="4.2" height="4.2" stroke="#0072BD" stroke-width="0.72" fill="none"/>
<rect x="189.60" y="286.48" width="4.2" height="4.2" stroke="#0072BD" stroke-width="0.72" fill="none"/>
<rect x="199.20" y="281.78" width="4.2" height="4.2" stroke="#0072BD" stroke-width="0.72" fill="none"/>
<rect x="208.80" y="277.02" width="4.2" height="4.2" stroke="#0072BD" stroke-width="0.72" fill="none"/>
<rect x="218.40" y="272.20" width="4.2" height="4.2" stroke="#0072BD" stroke-width="0.72" fill="none"/>
<rect x="228.00" y="267.31" width="4.2" height="4.2" stroke="#0072BD" stroke-width="0.72" fill="none"/>
<rect x="237.60" y="262.36" width="4.2" height="4.2" stroke="#0072BD" stroke-width="0.72" fill="none"/>
<rect x="247.20" y="257.35" width="4.2" height="4.2" stroke="#0072BD" stroke-width="0.72" fill="none"/>
<rect x="256.80" y="252.27" width="4.2" height="4.2" stroke="#0072BD" stroke-width="0.72" fill="none"/>
<rect x="266.40" y="247.16" width="4.2" height="4.2" stroke="#0072BD" stroke-width="0.72" fill="none"/>
<rect x="276.00" y="242.02" width="4.2" height="4.2" stroke="#0072BD" stroke-width="0.72" fill="none"/>
<rect x="285.60" y="236.89" width="4.2" height="4.2" stroke="#0072BD" stroke-width="0.72" fill="none"/>
<rect x="295.20" y="231.78" width="4.2" height="4.2" stroke="#0072BD" stroke-width="0.72" fill="none"/>
<rect x="304.80" y="226.72" width="4.2" height="4.2" stroke="#0072BD" stroke-width="0.72" fill="none"/>
<rect x="314.40" y="221.74" width="4.2" height="4.2" stroke="#0072BD" stroke-width="0.72" fill="none"/>
<rect x="324.00" y="216.84" width="4.2" height="4.2" stroke="#0072BD" stroke-width="0.72" fill="none"/>
<rect x="333.60" y="212.06" width="4.2" height="4.2" stroke="#0072BD" stroke-width="0.72" fill="none"/>
<rect x="343.20" y="207.41" width="4.2" height="4.2" stroke="#0072BD" stroke-width="0.72" fill="none"/>
<rect x="352.80" y="202.92" width="4.2" height="4.2" stroke="#0072BD" stroke-width="0.72" fill="none"/>
<rect x="362.40" y="198.60" width="4.2" height="4.2" stroke="#0072BD" stroke-width="0.72" fill="none"/>
<rect x="372.00" y="194.44" width="4.2" height="4.2" stroke="#0072BD" stroke-width="0.72" fill="none"/>
<rect x="381.60" y="190.45" width="4.2" height="4.2" stroke="#0072BD" stroke-width="0.72" fill="none"/>
<rect x="391.20" y="186.64" width="4.2" height="4.2" stroke="#0072BD" stroke-width="0.72" fill="none"/>
<rect x="400.80" y="183.01" width="4.2" height="4.2" stroke="#0072BD" stroke-width="0.72" fill="none"/>
<rect x="410.40" y="179.56" width="4.2" height="4.2" stroke="#0072BD" stroke-width="0.72" fill="none"/>
<rect x="420.00" y="176.29" width="4.2" height="4.2" stroke="#0072BD" stroke-width="0.72" fill="none"/>
<rect x="429.60" y="173.22" width="4.2" height="4.2" stroke="#0072BD" stroke-width="0.72" fill="none"/>
<rect x="439.20" y="170.35" width="4.2" height="4.2" stroke="#0072BD" stroke-width="0.72" fill="none"/>
<rect x="448.80" y="167.67" width="4.2" height="4.2" stroke="#0072BD" stroke-width="0.72" fill="none"/>
<rect x="458.40" y="165.20" width="4.2" height="4.2" stroke="#0072BD" stroke-width="0.72" fill="none"/>
<rect x="468.00" y="162.93" width="4.2" height="4.2" stroke="#0072BD" stroke-width="0.72" fill="none"/>
<rect x="477.60" y="160.88" width="4.2" height="4.2" stroke="#0072BD" stroke-width="0.72" fill="none"/>
<rect x="487.20" y="159.04" width="4.2" height="4.2" stroke="#0072BD" stroke-width="0.72" fill="none"/>
<polyline points="57.30,349.58 66.90,346.34 76.50,342.99 86.10,339.51 95.70,335.93 105.30,332.24 114.90,328.45 124.50,324.56 134.10,320.57 143.70,316.50 153.30,312.34 162.90,308.11 172.50,303.79 182.10,299.41 191.70,294.96 201.30,290.45 210.90,285.88 220.50,281.25 230.10,276.58 239.70,271.86 249.30,267.10 258.90,262.31 268.50,257.50 278.10,252.69 287.70,247.89 297.30,243.12 306.90,238.40 316.50,233.74 326.10,229.16 335.70,224.67 345.30,220.30 354.90,216.05 364.50,211.94 374.10,207.96 383.70,204.13 393.30,200.45 402.90,196.92 412.50,193.55 422.10,190.35 431.70,187.31 441.30,184.45 450.90,181.78 460.50,179.28 470.10,176.98 479.70,174.87 489.30,172.97" stroke="#D95319" stroke-width="0.5"/>
<path d="M57.30 346.63L57.99 348.63L60.11 348.67L58.42 349.94L59.03 351.97L57.30 350.76L55.57 351.97L56.18 349.94L54.49 348.67L56.61 348.63Z" stroke="#D95319" stroke-width="0.72" fill="none"/>
<path d="M66.90 343.39L67.59 345.39L69.71 345.43L68.02 346.71L68.63 348.73L66.90 347.52L65.17 348.73L65.78 346.71L64.09 345.43L66.21 345.39Z" stroke="#D95319" stroke-width="0.72" fill="none"/>
<path d="M76.50 340.04L77.19 342.03L79.31 342.08L77.62 343.35L78.23 345.37L76.50 344.17L74.77 345.37L75.38 343.35L73.69 342.08L75.81 342.03Z" stroke="#D95319" stroke-width="0.72" fill="none"/>
<path d="M86.10 336.56L86.79 338.56L88.91 338.60L87.22 339.88L87.83 341.90L86.10 340.69L84.37 341.90L84.98 339.88L83.29 338.60L85.41 338.56Z" stroke="#D95319" stroke-width="0.72" fill="none"/>
<path d="M95.70 332.98L96.39 334.98L98.51 335.02L96.82 336.30L97.43 338.32L95.70 337.11L93.97 338.32L94.58 336.30L92.89 335.02L95.01 334.98Z" stroke="#D95319" stroke-width="0.72" fill="none"/>
<path d="M105.30 329.29L105.99 331.29L108.11 331.33L106.42 332.61L107.03 334.63L105.30 333.42L103.57 334.63L104.18 332.61L102.49 331.33L104.61 331.29Z" stroke="#D95319" stroke-width="0.72" fill="none"/>
<path d="M114.90 325.50L115.59 327.49L117.71 327.54L116.02 328.81L116.63 330.83L114.90 329.63L113.17 330.83L113.78 328.81L112.09 327.54L114.21 327.49Z" stroke="#D95319" stroke-width="0.72" fill="none"/>
<path d="M124.50 321.61L125.19 323.60L127.31 323.65L125.62 324.92L126.23 326.94L124.50 325.74L122.77 326.94L123.38 324.92L121.69 323.65L123.81 323.60Z" stroke="#D95319" stroke-width="0.72" fill="none"/>
<path d="M134.10 317.62L134.79 319.62L136.91 319.66L135.22 320.94L135.83 322.96L134.10 321.75L132.37 322.96L132.98 320.94L131.29 319.66L133.41 319.62Z" stroke="#D95319" stroke-width="0.72" fill="none"/>
<path d="M143.70 313.55L144.39 315.55L146.51 315.59L144.82 316.87L145.43 318.89L143.70 317.68L141.97 318.89L142.58 316.87L140.89 315.59L143.01 315.55Z" stroke="#D95319" stroke-width="0.72" fill="none"/>
<path d="M153.30 309.39L153.99 311.39L156.11 311.43L154.42 312.71L155.03 314.73L153.30 313.52L151.57 314.73L152.18 312.71L150.49 311.43L152.61 311.39Z" stroke="#D95319" stroke-width="0.72" fill="none"/>
<path d="M162.90 305.16L163.59 307.15L165.71 307.20L164.02 308.47L164.63 310.49L162.90 309.29L161.17 310.49L161.78 308.47L160.09 307.20L162.21 307.15Z" stroke="#D95319" stroke-width="0.72" fill="none"/>
<path d="M172.50 300.84L173.19 302.84L175.31 302.88L173.62 304.16L174.23 306.18L172.50 304.97L170.77 306.18L171.38 304.16L169.69 302.88L171.81 302.84Z" stroke="#D95319" stroke-width="0.72" fill="none"/>
<path d="M182.10 296.46L182.79 298.46L184.91 298.50L183.22 299.77L183.83 301.80L182.10 300.59L180.37 301.80L180.98 299.77L179.29 298.50L181.41 298.46Z" stroke="#D95319" stroke-width="0.72" fill="none"/>
<path d="M191.70 292.01L192.39 294.00L194.51 294.05L192.82 295.32L193.43 297.35L191.70 296.14L189.97 297.35L190.58 295.32L188.89 294.05L191.01 294.00Z" stroke="#D95319" stroke-width="0.72" fill="none"/>
<path d="M201.30 287.50L201.99 289.49L204.11 289.53L202.42 290.81L203.03 292.83L201.30 291.63L199.57 292.83L200.18 290.81L198.49 289.53L200.61 289.49Z" stroke="#D95319" stroke-width="0.72" fill="none"/>
<path d="M210.90 282.93L211.59 284.92L213.71 284.96L212.02 286.24L212.63 288.26L210.90 287.06L209.17 288.26L209.78 286.24L208.09 284.96L210.21 284.92Z" stroke="#D95319" stroke-width="0.72" fill="none"/>
<path d="M220.50 278.30L221.19 280.30L223.31 280.34L221.62 281.62L222.23 283.64L220.50 282.43L218.77 283.64L219.38 281.62L217.69 280.34L219.81 280.30Z" stroke="#D95319" stroke-width="0.72" fill="none"/>
<path d="M230.10 273.63L230.79 275.62L232.91 275.67L231.22 276.94L231.83 278.97L230.10 277.76L228.37 278.97L228.98 276.94L227.29 275.67L229.41 275.62Z" stroke="#D95319" stroke-width="0.72" fill="none"/>
<path d="M239.70 268.91L240.39 270.91L242.51 270.95L240.82 272.23L241.43 274.25L239.70 273.04L237.97 274.25L238.58 272.23L236.89 270.95L239.01 270.91Z" stroke="#D95319" stroke-width="0.72" fill="none"/>
<path d="M249.30 264.15L249.99 266.15L252.11 266.19L250.42 267.47L251.03 269.49L249.30 268.28L247.57 269.49L248.18 267.47L246.49 266.19L248.61 266.15Z" stroke="#D95319" stroke-width="0.72" fill="none"/>
<path d="M258.90 259.36L259.59 261.36L261.71 261.40L260.02 262.68L260.63 264.70L258.90 263.49L257.17 264.70L257.78 262.68L256.09 261.40L258.21 261.36Z" stroke="#D95319" stroke-width="0.72" fill="none"/>
<path d="M268.50 254.55L269.19 256.55L271.31 256.59L269.62 257.87L270.23 259.89L268.50 258.68L266.77 259.89L267.38 257.87L265.69 256.59L267.81 256.55Z" stroke="#D95319" stroke-width="0.72" fill="none"/>
<path d="M278.10 249.74L278.79 251.74L280.91 251.78L279.22 253.05L279.83 255.08L278.10 253.87L276.37 255.08L276.98 253.05L275.29 251.78L277.41 251.74Z" stroke="#D95319" stroke-width="0.72" fill="none"/>
<path d="M287.70 244.94L288.39 246.94L290.51 246.98L288.82 248.26L289.43 250.28L287.70 249.07L285.97 250.28L286.58 248.26L284.89 246.98L287.01 246.94Z" stroke="#D95319" stroke-width="0.72" fill="none"/>
<path d="M297.30 240.17L297.99 242.17L300.11 242.21L298.42 243.49L299.03 245.51L297.30 244.30L295.57 245.51L296.18 243.49L294.49 242.21L296.61 242.17Z" stroke="#D95319" stroke-width="0.72" fill="none"/>
<path d="M306.90 235.45L307.59 237.44L309.71 237.49L308.02 238.76L308.63 240.79L306.90 239.58L305.17 240.79L305.78 238.76L304.09 237.49L306.21 237.44Z" stroke="#D95319" stroke-width="0.72" fill="none"/>
<path d="M316.50 230.79L317.19 232.78L319.31 232.83L317.62 234.10L318.23 236.13L316.50 234.92L314.77 236.13L315.38 234.10L313.69 232.83L315.81 232.78Z" stroke="#D95319" stroke-width="0.72" fill="none"/>
<path d="M326.10 226.21L326.79 228.20L328.91 228.25L327.22 229.52L327.83 231.54L326.10 230.34L324.37 231.54L324.98 229.52L323.29 228.25L325.41 228.20Z" stroke="#D95319" stroke-width="0.72" fill="none"/>
<path d="M335.70 221.72L336.39 223.72L338.51 223.76L336.82 225.04L337.43 227.06L335.70 225.85L333.97 227.06L334.58 225.04L332.89 223.76L335.01 223.72Z" stroke="#D95319" stroke-width="0.72" fill="none"/>
<path d="M345.30 217.35L345.99 219.34L348.11 219.39L346.42 220.66L347.03 222.68L345.30 221.48L343.57 222.68L344.18 220.66L342.49 219.39L344.61 219.34Z" stroke="#D95319" stroke-width="0.72" fill="none"/>
<path d="M354.90 213.10L355.59 215.10L357.71 215.14L356.02 216.42L356.63 218.44L354.90 217.23L353.17 218.44L353.78 216.42L352.09 215.14L354.21 215.10Z" stroke="#D95319" stroke-width="0.72" fill="none"/>
<path d="M364.50 208.99L365.19 210.98L367.31 211.02L365.62 212.30L366.23 214.32L364.50 213.12L362.77 214.32L363.38 212.30L361.69 211.02L363.81 210.98Z" stroke="#D95319" stroke-width="0.72" fill="none"/>
<path d="M374.10 205.01L374.79 207.01L376.91 207.05L375.22 208.33L375.83 210.35L374.10 209.14L372.37 210.35L372.98 208.33L371.29 207.05L373.41 207.01Z" stroke="#D95319" stroke-width="0.72" fill="none"/>
<path d="M383.70 201.18L384.39 203.18L386.51 203.22L384.82 204.49L385.43 206.52L383.70 205.31L381.97 206.52L382.58 204.49L380.89 203.22L383.01 203.18Z" stroke="#D95319" stroke-width="0.72" fill="none"/>
<path d="M393.30 197.50L393.99 199.49L396.11 199.54L394.42 200.81L395.03 202.83L393.30 201.63L391.57 202.83L392.18 200.81L390.49 199.54L392.61 199.49Z" stroke="#D95319" stroke-width="0.72" fill="none"/>
<path d="M402.90 193.97L403.59 195.96L405.71 196.01L404.02 197.28L404.63 199.31L402.90 198.10L401.17 199.31L401.78 197.28L400.09 196.01L402.21 195.96Z" stroke="#D95319" stroke-width="0.72" fill="none"/>
<path d="M412.50 190.60L413.19 192.60L415.31 192.64L413.62 193.92L414.23 195.94L412.50 194.73L410.77 195.94L411.38 193.92L409.69 192.64L411.81 192.60Z" stroke="#D95319" stroke-width="0.72" fill="none"/>
<path d="M422.10 187.40L422.79 189.39L424.91 189.44L423.22 190.71L423.83 192.73L422.10 191.53L420.37 192.73L420.98 190.71L419.29 189.44L421.41 189.39Z" stroke="#D95319" stroke-width="0.72" fill="none"/>
<path d="M431.70 184.36L432.39 186.36L434.51 186.40L432.82 187.68L433.43 189.70L431.70 188.49L429.97 189.70L430.58 187.68L428.89 186.40L431.01 186.36Z" stroke="#D95319" stroke-width="0.72" fill="none"/>
<path d="M441.30 181.50L441.99 183.50L444.11 183.54L442.42 184.82L443.03 186.84L441.30 185.63L439.57 186.84L440.18 184.82L438.49 183.54L440.61 183.50Z" stroke="#D95319" stroke-width="0.72" fill="none"/>
<path d="M450.90 178.83L451.59 180.82L453.71 180.86L452.02 182.14L452.63 184.16L450.90 182.96L449.17 184.16L449.78 182.14L448.09 180.86L450.21 180.82Z" stroke="#D95319" stroke-width="0.72" fill="none"/>
<path d="M460.50 176.33L461.19 178.33L463.31 178.37L461.62 179.65L462.23 181.67L460.50 180.46L458.77 181.67L459.38 179.65L457.69 178.37L459.81 178.33Z" stroke="#D95319" stroke-width="0.72" fill="none"/>
<path d="M470.10 174.03L470.79 176.03L472.91 176.07L471.22 177.35L471.83 179.37L470.10 178.16L468.37 179.37L468.98 177.35L467.29 176.07L469.41 176.03Z" stroke="#D95319" stroke-width="0.72" fill="none"/>
<path d="M479.70 171.92L480.39 173.92L482.51 173.96L480.82 175.24L481.43 177.26L479.70 176.05L477.97 177.26L478.58 175.24L476.89 173.96L479.01 173.92Z" stroke="#D95319" stroke-width="0.72" fill="none"/>
<path d="M489.30 170.02L489.99 172.02L492.11 172.06L490.42 173.33L491.03 175.36L489.30 174.15L487.57 175.36L488.18 173.33L486.49 172.06L488.61 172.02Z" stroke="#D95319" stroke-width="0.72" fill="none"/>
<polyline points="57.30,344.88 66.90,340.87 76.50,336.69 86.10,332.35 95.70,327.86 105.30,323.23 114.90,318.47 124.50,313.58 134.10,308.58 143.70,303.46 153.30,298.25 162.90,292.94 172.50,287.56 182.10,282.09 191.70,276.56 201.30,270.96 210.90,265.32 220.50,259.63 230.10,253.91 239.70,248.16 249.30,242.40 258.90,236.62 268.50,230.85 278.10,225.12 287.70,219.43 297.30,213.81 306.90,208.27 316.50,202.85 326.10,197.55 335.70,192.40 345.30,187.41 354.90,182.61 364.50,178.00 374.10,173.59 383.70,169.39 393.30,165.39 402.90,161.61 412.50,158.06 422.10,154.73 431.70,151.64 441.30,148.78 450.90,146.18 460.50,143.83 470.10,141.73 479.70,139.90 489.30,138.34" stroke="#EDB120" stroke-width="0.5" stroke-dasharray="6 4.6"/>
<polyline points="57.30,341.23 66.90,335.52 76.50,329.87 86.10,324.25 95.70,318.65 105.30,313.04 114.90,307.40 124.50,301.71 134.10,295.96 143.70,290.11 153.30,284.16 162.90,278.07 172.50,271.87 182.10,265.56 191.70,259.14 201.30,252.64 210.90,246.05 220.50,239.39 230.10,232.67 239.70,225.90 249.30,219.08 258.90,212.24 268.50,205.39 278.10,198.56 287.70,191.79 297.30,185.10 306.90,178.51 316.50,172.07 326.10,165.79 335.70,159.70 345.30,153.83 354.90,148.21 364.50,142.85 374.10,137.75 383.70,132.93 393.30,128.40 402.90,124.16 412.50,120.22 422.10,116.60 431.70,113.30 441.30,110.33 450.90,107.70 460.50,105.42 470.10,103.50 479.70,101.94 489.30,100.76" stroke="#77AC30" stroke-width="0.5"/>
<circle cx="57.30" cy="341.23" r="0.85" fill="#77AC30"/>
<circle cx="66.90" cy="335.52" r="0.85" fill="#77AC30"/>
<circle cx="76.50" cy="329.87" r="0.85" fill="#77AC30"/>
<circle cx="86.10" cy="324.25" r="0.85" fill="#77AC30"/>
<circle cx="95.70" cy="318.65" r="0.85" fill="#77AC30"/>
<circle cx="105.30" cy="313.04" r="0.85" fill="#77AC30"/>
<circle cx="114.90" cy="307.40" r="0.85" fill="#77AC30"/>
<circle cx="124.50" cy="301.71" r="0.85" fill="#77AC30"/>
<circle cx="134.10" cy="295.96" r="0.85" fill="#77AC30"/>
<circle cx="143.70" cy="290.11" r="0.85" fill="#77AC30"/>
<circle cx="153.30" cy="284.16" r="0.85" fill="#77AC30"/>
<circle cx="162.90" cy="278.07" r="0.85" fill="#77AC30"/>
<circle cx="172.50" cy="271.87" r="0.85" fill="#77AC30"/>
<circle cx="182.10" cy="265.56" r="0.85" fill="#77AC30"/>
<circle cx="191.70" cy="259.14" r="0.85" fill="#77AC30"/>
<circle cx="201.30" cy="252.64" r="0.85" fill="#77AC30"/>
<circle cx="210.90" cy="246.05" r="0.85" fill="#77AC30"/>
<circle cx="220.50" cy="239.39" r="0.85" fill="#77AC30"/>
<circle cx="230.10" cy="232.67" r="0.85" fill="#77AC30"/>
<circle cx="239.70" cy="225.90" r="0.85" fill="#77AC30"/>
<circle cx="249.30" cy="219.08" r="0.85" fill="#77AC30"/>
<circle cx="258.90" cy="212.24" r="0.85" fill="#77AC30"/>
<circle cx="268.50" cy="205.39" r="0.85" fill="#77AC30"/>
<circle cx="278.10" cy="198.56" r="0.85" fill="#77AC30"/>
<circle cx="287.70" cy="191.79" r="0.85" fill="#77AC30"/>
<circle cx="297.30" cy="185.10" r="0.85" fill="#77AC30"/>
<circle cx="306.90" cy="178.51" r="0.85" fill="#77AC30"/>
<circle cx="316.50" cy="172.07" r="0.85" fill="#77AC30"/>
<circle cx="326.10" cy="165.79" r="0.85" fill="#77AC30"/>
<circle cx="335.70" cy="159.70" r="0.85" fill="#77AC30"/>
<circle cx="345.30" cy="153.83" r="0.85" fill="#77AC30"/>
<circle cx="354.90" cy="148.21" r="0.85" fill="#77AC30"/>
<circle cx="364.50" cy="142.85" r="0.85" fill="#77AC30"/>
<circle cx="374.10" cy="137.75" r="0.85" fill="#77AC30"/>
<circle cx="383.70" cy="132.93" r="0.85" fill="#77AC30"/>
<circle cx="393.30" cy="128.40" r="0.85" fill="#77AC30"/>
<circle cx="402.90" cy="124.16" r="0.85" fill="#77AC30"/>
<circle cx="412.50" cy="120.22" r="0.85" fill="#77AC30"/>
<circle cx="422.10" cy="116.60" r="0.85" fill="#77AC30"/>
<circle cx="431.70" cy="113.30" r="0.85" fill="#77AC30"/>
<circle cx="441.30" cy="110.33" r="0.85" fill="#77AC30"/>
<circle cx="450.90" cy="107.70" r="0.85" fill="#77AC30"/>
<circle cx="460.50" cy="105.42" r="0.85" fill="#77AC30"/>
<circle cx="470.10" cy="103.50" r="0.85" fill="#77AC30"/>
<circle cx="479.70" cy="101.94" r="0.85" fill="#77AC30"/>
<circle cx="489.30" cy="100.76" r="0.85" fill="#77AC30"/>
<polyline points="57.30,350.97 66.90,347.77 76.50,344.53 86.10,341.25 95.70,337.92 105.30,334.56 114.90,331.15 124.50,327.69 134.10,324.19 143.70,320.64 153.30,317.04 162.90,313.40 172.50,309.70 182.10,305.96 191.70,302.16 201.30,298.31 210.90,294.41 220.50,290.45 230.10,286.44 239.70,282.37 249.30,278.24 258.90,274.06 268.50,269.84 278.10,265.59 287.70,261.34 297.30,257.09 306.90,252.88 316.50,248.71 326.10,244.61 335.70,240.58 345.30,236.65 354.90,232.84 364.50,229.13 374.10,225.53 383.70,222.04 393.30,218.65 402.90,215.35 412.50,212.15 422.10,209.04 431.70,206.01 441.30,203.07 450.90,200.21 460.50,197.43 470.10,194.72 479.70,192.07 489.30,189.50" stroke="#4DBEEE" stroke-width="0.5"/>
<polyline points="57.30,346.80 66.90,342.89 76.50,338.85 86.10,334.68 95.70,330.39 105.30,325.97 114.90,321.44 124.50,316.80 134.10,312.05 143.70,307.20 153.30,302.25 162.90,297.21 172.50,292.08 182.10,286.87 191.70,281.59 201.30,276.23 210.90,270.80 220.50,265.30 230.10,259.75 239.70,254.14 249.30,248.49 258.90,242.79 268.50,237.07 278.10,231.36 287.70,225.68 297.30,220.06 306.90,214.51 316.50,209.08 326.10,203.78 335.70,198.64 345.30,193.68 354.90,188.92 364.50,184.38 374.10,180.04 383.70,175.91 393.30,172.00 402.90,168.29 412.50,164.79 422.10,161.51 431.70,158.43 441.30,155.57 450.90,152.92 460.50,150.48 470.10,148.25 479.70,146.24 489.30,144.43" stroke="#A2142F" stroke-width="0.5"/>
<path d="M54.00 345.10L60.60 345.10L57.30 350.30Z" stroke="#A2142F" stroke-width="0.72" fill="none"/>
<path d="M63.60 341.19L70.20 341.19L66.90 346.39Z" stroke="#A2142F" stroke-width="0.72" fill="none"/>
<path d="M73.20 337.15L79.80 337.15L76.50 342.35Z" stroke="#A2142F" stroke-width="0.72" fill="none"/>
<path d="M82.80 332.98L89.40 332.98L86.10 338.18Z" stroke="#A2142F" stroke-width="0.72" fill="none"/>
<path d="M92.40 328.69L99.00 328.69L95.70 333.89Z" stroke="#A2142F" stroke-width="0.72" fill="none"/>
<path d="M102.00 324.27L108.60 324.27L105.30 329.47Z" stroke="#A2142F" stroke-width="0.72" fill="none"/>
<path d="M111.60 319.74L118.20 319.74L114.90 324.94Z" stroke="#A2142F" stroke-width="0.72" fill="none"/>
<path d="M121.20 315.10L127.80 315.10L124.50 320.30Z" stroke="#A2142F" stroke-width="0.72" fill="none"/>
<path d="M130.80 310.35L137.40 310.35L134.10 315.55Z" stroke="#A2142F" stroke-width="0.72" fill="none"/>
<path d="M140.40 305.50L147.00 305.50L143.70 310.70Z" stroke="#A2142F" stroke-width="0.72" fill="none"/>
<path d="M150.00 300.55L156.60 300.55L153.30 305.75Z" stroke="#A2142F" stroke-width="0.72" fill="none"/>
<path d="M159.60 295.51L166.20 295.51L162.90 300.71Z" stroke="#A2142F" stroke-width="0.72" fill="none"/>
<path d="M169.20 290.38L175.80 290.38L172.50 295.58Z" stroke="#A2142F" stroke-width="0.72" fill="none"/>
<path d="M178.80 285.17L185.40 285.17L182.10 290.37Z" stroke="#A2142F" stroke-width="0.72" fill="none"/>
<path d="M188.40 279.89L195.00 279.89L191.70 285.09Z" stroke="#A2142F" stroke-width="0.72" fill="none"/>
<path d="M198.00 274.53L204.60 274.53L201.30 279.73Z" stroke="#A2142F" stroke-width="0.72" fill="none"/>
<path d="M207.60 269.10L214.20 269.10L210.90 274.30Z" stroke="#A2142F" stroke-width="0.72" fill="none"/>
<path d="M217.20 263.60L223.80 263.60L220.50 268.80Z" stroke="#A2142F" stroke-width="0.72" fill="none"/>
<path d="M226.80 258.05L233.40 258.05L230.10 263.25Z" stroke="#A2142F" stroke-width="0.72" fill="none"/>
<path d="M236.40 252.44L243.00 252.44L239.70 257.64Z" stroke="#A2142F" stroke-width="0.72" fill="none"/>
<path d="M246.00 246.79L252.60 246.79L249.30 251.99Z" stroke="#A2142F" stroke-width="0.72" fill="none"/>
<path d="M255.60 241.09L262.20 241.09L258.90 246.29Z" stroke="#A2142F" stroke-width="0.72" fill="none"/>
<path d="M265.20 235.37L271.80 235.37L268.50 240.57Z" stroke="#A2142F" stroke-width="0.72" fill="none"/>
<path d="M274.80 229.66L281.40 229.66L278.10 234.86Z" stroke="#A2142F" stroke-width="0.72" fill="none"/>
<path d="M284.40 223.98L291.00 223.98L287.70 229.18Z" stroke="#A2142F" stroke-width="0.72" fill="none"/>
<path d="M294.00 218.36L300.60 218.36L297.30 223.56Z" stroke="#A2142F" stroke-width="0.72" fill="none"/>
<path d="M303.60 212.81L310.20 212.81L306.90 218.01Z" stroke="#A2142F" stroke-width="0.72" fill="none"/>
<path d="M313.20 207.38L319.80 207.38L316.50 212.58Z" stroke="#A2142F" stroke-width="0.72" fill="none"/>
<path d="M322.80 202.08L329.40 202.08L326.10 207.28Z" stroke="#A2142F" stroke-width="0.72" fill="none"/>
<path d="M332.40 196.94L339.00 196.94L335.70 202.14Z" stroke="#A2142F" stroke-width="0.72" fill="none"/>
<path d="M342.00 191.98L348.60 191.98L345.30 197.18Z" stroke="#A2142F" stroke-width="0.72" fill="none"/>
<path d="M351.60 187.22L358.20 187.22L354.90 192.42Z" stroke="#A2142F" stroke-width="0.72" fill="none"/>
<path d="M361.20 182.68L367.80 182.68L364.50 187.88Z" stroke="#A2142F" stroke-width="0.72" fill="none"/>
<path d="M370.80 178.34L377.40 178.34L374.10 183.54Z" stroke="#A2142F" stroke-width="0.72" fill="none"/>
<path d="M380.40 174.21L387.00 174.21L383.70 179.41Z" stroke="#A2142F" stroke-width="0.72" fill="none"/>
<path d="M390.00 170.30L396.60 170.30L393.30 175.50Z" stroke="#A2142F" stroke-width="0.72" fill="none"/>
<path d="M399.60 166.59L406.20 166.59L402.90 171.79Z" stroke="#A2142F" stroke-width="0.72" fill="none"/>
<path d="M409.20 163.09L415.80 163.09L412.50 168.29Z" stroke="#A2142F" stroke-width="0.72" fill="none"/>
<path d="M418.80 159.81L425.40 159.81L422.10 165.01Z" stroke="#A2142F" stroke-width="0.72" fill="none"/>
<path d="M428.40 156.73L435.00 156.73L431.70 161.93Z" stroke="#A2142F" stroke-width="0.72" fill="none"/>
<path d="M438.00 153.87L444.60 153.87L441.30 159.07Z" stroke="#A2142F" stroke-width="0.72" fill="none"/>
<path d="M447.60 151.22L454.20 151.22L450.90 156.42Z" stroke="#A2142F" stroke-width="0.72" fill="none"/>
<path d="M457.20 148.78L463.80 148.78L460.50 153.98Z" stroke="#A2142F" stroke-width="0.72" fill="none"/>
<path d="M466.80 146.55L473.40 146.55L470.10 151.75Z" stroke="#A2142F" stroke-width="0.72" fill="none"/>
<path d="M476.40 144.54L483.00 144.54L479.70 149.74Z" stroke="#A2142F" stroke-width="0.72" fill="none"/>
<path d="M486.00 142.73L492.60 142.73L489.30 147.93Z" stroke="#A2142F" stroke-width="0.72" fill="none"/>
</g>
<g stroke="#848484" stroke-width="1" fill="none">
<path d="M48.0 15.5H529.5M48.0 363.5H529.5M48.5 15.5V363.5M529.0 15.5V363.5"/>
<path d="M48.50 363.5V358.5M48.50 15.5V20.5M96.55 363.5V358.5M96.55 15.5V20.5M144.60 363.5V358.5M144.60 15.5V20.5M192.65 363.5V358.5M192.65 15.5V20.5M240.70 363.5V358.5M240.70 15.5V20.5M288.75 363.5V358.5M288.75 15.5V20.5M336.80 363.5V358.5M336.80 15.5V20.5M384.85 363.5V358.5M384.85 15.5V20.5M432.90 363.5V358.5M432.90 15.5V20.5M480.95 363.5V358.5M480.95 15.5V20.5M529.00 363.5V358.5M529.00 15.5V20.5M48.5 363.50H53.5M529.0 363.50H524.0M48.5 328.70H53.5M529.0 328.70H524.0M48.5 293.90H53.5M529.0 293.90H524.0M48.5 259.10H53.5M529.0 259.10H524.0M48.5 224.30H53.5M529.0 224.30H524.0M48.5 189.50H53.5M529.0 189.50H524.0M48.5 154.70H53.5M529.0 154.70H524.0M48.5 119.90H53.5M529.0 119.90H524.0M48.5 85.10H53.5M529.0 85.10H524.0M48.5 50.30H53.5M529.0 50.30H524.0M48.5 15.50H53.5M529.0 15.50H524.0" stroke-width="0.75"/>
</g>
<g font-size="13.0" fill="#222222">
<text x="48.00" y="382.4" text-anchor="middle">350</text>
<text x="96.05" y="382.4" text-anchor="middle">400</text>
<text x="144.10" y="382.4" text-anchor="middle">450</text>
<text x="192.15" y="382.4" text-anchor="middle">500</text>
<text x="240.20" y="382.4" text-anchor="middle">550</text>
<text x="288.25" y="382.4" text-anchor="middle">600</text>
<text x="336.30" y="382.4" text-anchor="middle">650</text>
<text x="384.35" y="382.4" text-anchor="middle">700</text>
<text x="432.40" y="382.4" text-anchor="middle">750</text>
<text x="480.45" y="382.4" text-anchor="middle">800</text>
<text x="528.50" y="382.4" text-anchor="middle">850</text>
<text x="43" y="368.60" text-anchor="end">6</text>
<text x="43" y="333.80" text-anchor="end">8</text>
<text x="43" y="299.00" text-anchor="end">10</text>
<text x="43" y="264.20" text-anchor="end">12</text>
<text x="43" y="229.40" text-anchor="end">14</text>
<text x="43" y="194.60" text-anchor="end">16</text>
<text x="43" y="159.80" text-anchor="end">18</text>
<text x="43" y="125.00" text-anchor="end">20</text>
<text x="43" y="90.20" text-anchor="end">22</text>
<text x="43" y="55.40" text-anchor="end">24</text>
<text x="43" y="20.60" text-anchor="end">26</text>
</g>
<text x="270.3" y="402.7" font-size="14.7" fill="#222222">T<tspan dy="7.3" font-size="13.8">h</tspan><tspan dy="-7.3">(K)</tspan></text>
<text transform="translate(15.0,206.4) rotate(-90) scale(1.42,0.88)" font-size="13.8" fill="#222222" font-family="'Liberation Serif', 'DejaVu Serif', serif" font-style="italic">η</text>
<text transform="translate(22.9,196.5) rotate(-90)" font-size="12.4" fill="#222222">TEG</text>
<rect x="49.9" y="16.4" width="109.54999999999998" height="232.9" fill="#fff" stroke="#8a8a8a" stroke-width="0.9"/>
<g id="legend">
<path d="M53.4 24.50H86.3" stroke="#0072BD" stroke-width="0.5" fill="none"/>
<circle cx="69.90" cy="24.50" r="2.95" stroke="#0072BD" stroke-width="0.72" fill="none"/>
<text x="89.4" y="28.90" font-size="11.0" fill="#222222">PbTe</text>
<path d="M53.4 39.10H86.3" stroke="#D95319" stroke-width="0.5" fill="none"/>
<text x="89.4" y="43.50" font-size="11.0" fill="#222222">PbSe</text>
<path d="M53.4 53.50H86.3" stroke="#EDB120" stroke-width="0.5" fill="none"/>
<path d="M69.90 49.70L72.50 53.50L69.90 57.30L67.30 53.50Z" stroke="#EDB120" stroke-width="0.72" fill="none"/>
<text x="89.4" y="57.90" font-size="11.0" fill="#222222">PbS</text>
<path d="M53.4 70.40H86.3" stroke="#7E2F8E" stroke-width="0.5" fill="none"/>
<path d="M67.00 70.40H72.80M69.90 67.50V73.30" stroke="#7E2F8E" stroke-width="0.72" fill="none"/>
<text x="89.4" y="72.80" font-size="11.0" fill="#222222">Cu<tspan dy="5.4" font-size="9.5">2</tspan><tspan dy="-5.4">Se</tspan></text>
<path d="M53.4 89.30H86.3" stroke="#77AC30" stroke-width="0.5" fill="none"/>
<path d="M67.95 87.35L71.85 91.25M67.95 91.25L71.85 87.35" stroke="#77AC30" stroke-width="0.72" fill="none"/>
<text x="89.4" y="91.70" font-size="11.0" fill="#222222">Cu<tspan dy="5.4" font-size="9.5">2</tspan><tspan dy="-5.4">S</tspan></text>
<path d="M53.4 106.50H86.3" stroke="#4DBEEE" stroke-width="0.5" fill="none"/>
<path d="M67.00 106.50H72.80M69.90 103.60V109.40M67.85 104.45L71.95 108.55M67.85 108.55L71.95 104.45" stroke="#4DBEEE" stroke-width="0.72" fill="none"/>
<text x="89.4" y="110.90" font-size="11.0" fill="#222222">SnSe</text>
<path d="M53.4 120.50H86.3" stroke="#A2142F" stroke-width="0.5" fill="none"/>
<text x="89.4" y="124.90" font-size="11.0" fill="#222222">SiGe</text>
<path d="M53.4 135.60H86.3" stroke="#0072BD" stroke-width="0.5" fill="none"/>
<rect x="67.80" y="133.50" width="4.2" height="4.2" stroke="#0072BD" stroke-width="0.72" fill="none"/>
<text x="89.4" y="140.00" font-size="11.0" fill="#222222">BiCuSeO</text>
<path d="M53.4 152.00H86.3" stroke="#D95319" stroke-width="0.5" fill="none"/>
<path d="M69.90 149.05L70.59 151.05L72.71 151.09L71.02 152.36L71.63 154.39L69.90 153.18L68.17 154.39L68.78 152.36L67.09 151.09L69.21 151.05Z" stroke="#D95319" stroke-width="0.72" fill="none"/>
<text x="89.4" y="154.40" font-size="11.0" fill="#222222">Bi<tspan dy="5.4" font-size="9.5">2</tspan><tspan dy="-5.4">Te</tspan><tspan dy="5.4" dx="1.2" font-size="9.5">3</tspan></text>
<path d="M53.4 171.20H86.3" stroke="#EDB120" stroke-width="0.5" stroke-dasharray="6 4.6" fill="none"/>
<text x="89.4" y="173.60" font-size="11.0" fill="#222222">Cu(In,Ga)Te<tspan dy="5.4" dx="1.6" font-size="9.5">2</tspan></text>
<path d="M53.4 187.60H86.3" stroke="#7E2F8E" stroke-width="0.5" stroke-dasharray="1 2.2" stroke-opacity="0.6" fill="none"/>
<text x="89.4" y="192.00" font-size="11.0" fill="#222222">Half-Heusler</text>
<path d="M53.4 204.70H86.3" stroke="#77AC30" stroke-width="0.5" fill="none"/>
<circle cx="69.90" cy="204.70" r="0.85" fill="#77AC30"/>
<text x="89.4" y="207.10" font-size="11.0" fill="#222222">CoSb<tspan dy="5.4" font-size="9.5">3</tspan></text>
<path d="M53.4 221.50H86.3" stroke="#4DBEEE" stroke-width="0.5" fill="none"/>
<text x="89.4" y="225.90" font-size="11.0" fill="#222222">InSb</text>
<path d="M53.4 238.00H86.3" stroke="#A2142F" stroke-width="0.5" fill="none"/>
<path d="M66.60 236.30L73.20 236.30L69.90 241.50Z" stroke="#A2142F" stroke-width="0.72" fill="none"/>
<text x="89.4" y="240.40" font-size="11.0" fill="#222222">Mg<tspan dy="5.4" font-size="9.5">3</tspan><tspan dy="-5.4">Sb</tspan><tspan dy="5.4" font-size="9.5">2</tspan></text>
</g>
</svg>
</body></html>
